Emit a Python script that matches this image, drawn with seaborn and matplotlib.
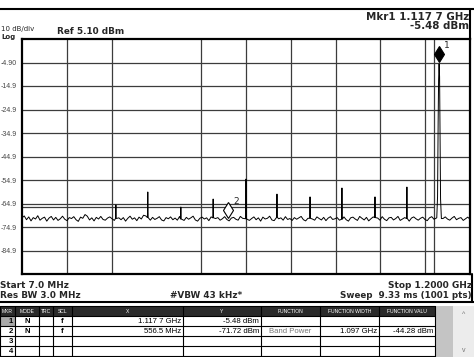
import numpy as np
import pandas as pd
import matplotlib
matplotlib.use("Agg")
import matplotlib.pyplot as plt
import matplotlib.transforms as mtransforms
from matplotlib.patches import Rectangle
import seaborn as sns

# ---------------- data ----------------
START_MHZ = 7.0
STOP_MHZ = 1200.0
REF_DBM = 5.10
DB_PER_DIV = 10.0

noise_dbm = [
    -71.0, -70.2, -71.8, -70.6, -72.3, -70.9, -71.5, -70.1, -72.0, -71.2, -70.7, -72.4, -71.1, -70.4, -71.9, -70.8, -72.1, -71.4, -70.3, -71.6,
    -72.2, -70.9, -71.3, -70.5, -71.8, -72.5, -70.7, -71.2, -69.6, -70.3, -71.9, -71.0, -72.3, -70.8, -71.5, -70.4, -71.7, -72.0, -71.1, -70.6,
    -71.4, -72.1, -70.5, -71.0, -71.8, -70.9, -72.4, -71.2, -70.3, -71.6, -71.0, -72.2, -70.7, -71.5, -69.9, -70.2, -71.1, -72.0, -70.8, -71.7,
    -71.2, -70.5, -71.9, -72.3, -70.9, -71.4, -70.6, -71.8, -71.1, -72.0, -70.4, -71.3, -72.1, -70.8, -71.6, -71.0, -70.3, -71.9, -72.4, -71.2,
    -70.7, -71.5, -71.0, -72.2, -70.6, -71.8, -71.3, -70.9, -72.0, -71.4, -70.5, -71.7, -72.3, -71.1, -70.8, -71.6, -72.0, -70.4, -71.2, -71.9,
    -70.9, -72.1, -71.3, -70.6, -71.8, -71.0, -72.4, -70.7, -71.5, -71.2, -70.3, -71.9, -72.2, -70.8, -71.4, -71.0, -72.0, -70.5, -71.7, -71.3,
    -72.1, -70.9, -71.6, -71.0, -70.4, -71.8, -72.3, -71.2, -70.7, -71.5, -72.0, -70.6, -71.3, -71.9, -70.8, -72.2, -71.1, -70.5, -71.7, -71.4,
    -70.9, -72.0, -71.3, -70.6, -71.8, -72.4, -71.0, -70.7, -71.5, -72.1, -70.4, -71.2, -71.9, -70.8, -72.3, -71.4, -70.6, -71.7, -71.1, -72.0,
    -70.5, -71.6, -72.2, -71.0, -70.8, -71.9, -71.3, -70.4, -72.1, -71.5, -70.9, -71.8, -72.4, -71.1, -70.6, -71.4, -72.0, -71.2, -70.7, -71.7,
    -72.2, -71.0, -70.5, -71.6, -71.9, -70.8, -72.3, -71.3, -70.6, -71.5, -72.0, -71.1, -70.4, -71.8, -71.2, -70.9, -72.1, -71.4, -70.7, -71.6,
]

spur_mhz = [257.0, 342.0, 430.0, 516.0, 603.5, 686.0, 774.0, 859.0, 947.0, 1032.0]
spur_dbm = [-65.5, -60.0, -66.4, -63.0, -54.5, -60.9, -62.1, -58.3, -62.1, -57.9]
spur_base_dbm = [-71.3, -70.9, -71.5, -71.0, -71.4, -70.8, -71.2, -71.6, -70.9, -71.3]

carrier_mhz = [1111.5, 1113.6, 1115.2, 1116.4, 1117.7, 1119.0, 1120.2, 1121.6, 1123.8]
carrier_dbm = [-71.0, -62.0, -30.0, -12.0, -5.48, -11.0, -35.0, -63.0, -71.3]

band_edges_mhz = [8.0, 1105.0]
band_level_dbm = -66.2

mkr_names = ["1", "2"]
mkr_mhz = [1117.7, 556.5]
mkr_dbm = [-5.48, -71.72]
mkr_filled = [True, False]

ytick_labels = ["-4.90", "-14.9", "-24.9", "-34.9", "-44.9", "-54.9", "-64.9", "-74.9", "-84.9"]

table_header = ["MKR", "MODE", "TRC", "SCL", "X", "Y", "FUNCTION", "FUNCTION WIDTH", "FUNCTION VALU"]
table_rows = [
    ["1", "N", "", "f", "1.117 7 GHz", "-5.48 dBm", "", "", ""],
    ["2", "N", "", "f", "556.5 MHz", "-71.72 dBm", "Band Power", "1.097 GHz", "-44.28 dBm"],
    ["3", "", "", "", "", "", "", "", ""],
    ["4", "", "", "", "", "", "", "", ""],
]

# ---------------- build trace ----------------
noise_f = np.linspace(START_MHZ, STOP_MHZ, len(noise_dbm))
feat_f, feat_v, excl = [], [], []
for f, p, b in zip(spur_mhz, spur_dbm, spur_base_dbm):
    feat_f += [f - 1.0, f, f + 1.0]
    feat_v += [b, p, b]
    excl.append((f - 3.0, f + 3.0))
feat_f += carrier_mhz
feat_v += carrier_dbm
excl.append((carrier_mhz[0] - 2.0, carrier_mhz[-1] + 2.0))
keep = np.ones(len(noise_f), bool)
for lo, hi in excl:
    keep &= ~((noise_f > lo) & (noise_f < hi))
trace_f = np.concatenate([noise_f[keep], feat_f])
trace_v = np.concatenate([np.array(noise_dbm)[keep], feat_v])
order = np.argsort(trace_f)
df = pd.DataFrame({"freq": trace_f[order], "level": trace_v[order]})

# ---------------- figure ----------------
sns.set_style("white")
plt.rcParams["font.family"] = ["Liberation Sans", "DejaVu Sans"]
WIDE = ["DejaVu Sans"]

W, H = 474, 357
fig = plt.figure(figsize=(W / 100, H / 100), dpi=100)
L, R, T, B = 22, 470, 39, 274
ax = fig.add_axes([L / W, 1 - B / H, (R - L) / W, (B - T) / H])

bottom_dbm = REF_DBM - 10 * DB_PER_DIV
ax.set_xlim(START_MHZ, STOP_MHZ)
ax.set_ylim(bottom_dbm, REF_DBM)
span = STOP_MHZ - START_MHZ
ax.set_xticks([START_MHZ + k * span / 10 for k in (1, 2, 4, 5, 6, 7, 8, 9)])
ax.set_xticklabels([])
ax.set_yticks([REF_DBM - k * DB_PER_DIV for k in range(1, 10)])
ax.set_yticklabels(ytick_labels)
ax.tick_params(axis="both", length=0)
ax.tick_params(axis="y", labelsize=5, pad=3.5, labelcolor="#444444")
ax.grid(True, color="#3c3c3c", linewidth=0.9)
ax.set_axisbelow(True)
for s in ax.spines.values():
    s.set_color("black")
    s.set_linewidth(1.6)

# band power markers
ax.axvline(band_edges_mhz[1], color="#3c3c3c", linewidth=0.9, zorder=1)
ax.plot(band_edges_mhz, [band_level_dbm, band_level_dbm], color="#3c3c3c", linewidth=0.9, zorder=1)

sns.lineplot(data=df, x="freq", y="level", ax=ax, color="black", linewidth=0.7,
             estimator=None, sort=False, zorder=3)
ax.set_xlabel("")
ax.set_ylabel("")

# markers (diamond drawn just above the trace point)
up = mtransforms.ScaledTranslation(0, 0.10, fig.dpi_scale_trans)
for name, f, v, filled in zip(mkr_names, mkr_mhz, mkr_dbm, mkr_filled):
    ax.plot([f], [v], marker="d", markersize=8.5, markeredgewidth=0.8,
            markerfacecolor="black" if filled else "white", markeredgecolor="black",
            transform=ax.transData + up, zorder=5, clip_on=False)
    lab = mtransforms.ScaledTranslation(0.05, 0.16, fig.dpi_scale_trans)
    ax.text(f, v, name, fontsize=6.5, transform=ax.transData + lab, zorder=6,
            ha="left", va="baseline", family=WIDE)

# ---------------- overlay (annotations, table) ----------------
ov = fig.add_axes([0, 0, 1, 1], zorder=10)
ov.set_xlim(0, W)
ov.set_ylim(H, 0)
ov.axis("off")
ov.patch.set_alpha(0)

ov.plot([0, W], [9, 9], color="black", linewidth=1.5)
ov.plot([R, R], [9, T], color="black", linewidth=1.5)
ov.plot([0, W], [301.5, 301.5], color="black", linewidth=1.5)
ov.plot([472.5, 472.5], [B, 301.5], color="black", linewidth=1.5)

ov.text(469.5, 19.5, "Mkr1 1.117 7 GHz", ha="right", va="baseline", fontsize=7.4, weight="bold", family=WIDE)
ov.text(469.5, 28.8, "-5.48 dBm", ha="right", va="baseline", fontsize=7.4, weight="bold", family=WIDE)
ov.text(1.5, 31.0, "10 dB/div", ha="left", va="baseline", fontsize=5.0, family=WIDE)
ov.text(1.5, 38.6, "Log", ha="left", va="baseline", fontsize=5.0, weight="bold", family=WIDE)
ov.text(57, 34, "Ref 5.10 dBm", ha="left", va="baseline", fontsize=6.4, weight="bold", family=WIDE)

ov.text(0.5, 287.5, "Start 7.0 MHz", ha="left", va="baseline", fontsize=6.4, weight="bold", family=WIDE)
ov.text(0.5, 298, "Res BW 3.0 MHz", ha="left", va="baseline", fontsize=6.4, weight="bold", family=WIDE)
ov.text(170, 298, "#VBW 43 kHz*", ha="left", va="baseline", fontsize=6.4, weight="bold", family=WIDE)
ov.text(472, 287.5, "Stop 1.2000 GHz", ha="right", va="baseline", fontsize=6.5, weight="bold", family=WIDE)
ov.text(472, 298, "Sweep  9.33 ms (1001 pts)", ha="right", va="baseline", fontsize=6.3, weight="bold", family=WIDE)

# table
cols = [0, 15, 39, 53, 72, 183, 261, 320, 379, 435]
aligns = ["right", "center", "center", "center", "right", "right", "center", "right", "right"]
hdr_top, hdr_bot = 306, 315.5
row_edges = [315.5, 326, 336, 346, 356]
ov.add_patch(Rectangle((0, hdr_top), 435, hdr_bot - hdr_top, facecolor="#2a2a2a", edgecolor="none"))
ov.add_patch(Rectangle((435, hdr_top), 18, H - hdr_top, facecolor="#c4c4c4", edgecolor="none"))
ov.add_patch(Rectangle((453, hdr_top), 21, H - hdr_top, facecolor="#ececec", edgecolor="none"))
ov.text(463.5, 314, "^", ha="center", va="center", fontsize=5, color="#777777")
ov.text(463.5, 350, "v", ha="center", va="center", fontsize=5, color="#777777")
ov.add_patch(Rectangle((0, row_edges[0]), 15, row_edges[1] - row_edges[0], facecolor="#a9a9a9", edgecolor="none"))
for i, h in enumerate(table_header):
    x0, x1 = cols[i], cols[i + 1]
    ov.text((x0 + x1) / 2, (hdr_top + hdr_bot) / 2 + 0.5, h, ha="center", va="center",
            fontsize=3.6, color="white")
for r, row in enumerate(table_rows):
    y0, y1 = row_edges[r], row_edges[r + 1]
    for i, val in enumerate(row):
        if not val:
            continue
        x0, x1 = cols[i], cols[i + 1]
        a = aligns[i]
        x = {"right": x1 - 2, "center": (x0 + x1) / 2, "left": x0 + 2}[a]
        color = "#777777" if i == 6 else "black"
        wt = "bold" if i < 4 else "normal"
        ov.text(x, (y0 + y1) / 2 + 0.5, val, ha=a, va="center", fontsize=5.6,
                color=color, weight=wt)
for y in [hdr_top] + row_edges:
    ov.plot([0, 435], [y, y], color="black", linewidth=0.8)
for x in cols:
    ov.plot([x, x], [hdr_top, 356], color="black", linewidth=0.8)

fig.savefig("out.png", dpi=100)
